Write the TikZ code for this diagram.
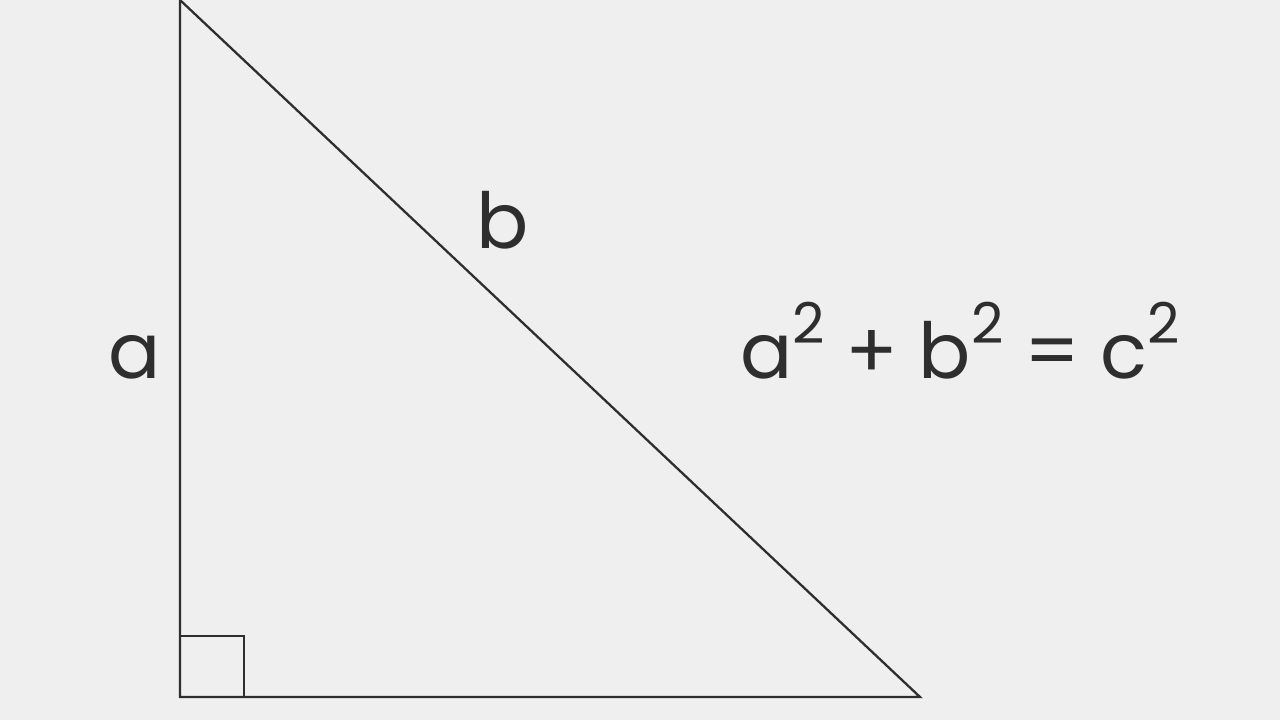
\documentclass[tikz,border=0pt]{standalone}
\usepackage{fontspec}
\setmainfont{Poppins}
\usetikzlibrary{positioning}

\definecolor{bgcol}{HTML}{EFEFEF}
\definecolor{inkcol}{HTML}{2E2E2E}
\newcommand{\sqr}{\raisebox{0.45em}{\fontsize{32}{32}\selectfont 2}}

\begin{document}
\begin{tikzpicture}[x=0.02cm,y=-0.02cm,line width=1.3pt,draw=inkcol,
  side label/.style={text=inkcol,font=\fontsize{44}{44}\selectfont,anchor=base,inner sep=0pt}]

  \fill[bgcol] (0,0) rectangle (1280,720);
  \useasboundingbox (0,0) rectangle (1280,720);

  \coordinate (top) at (180,0);
  \coordinate (corner) at (180,697);
  \coordinate (right) at (920,697);

  \draw[line join=miter] (top) -- (corner) -- (right) -- cycle;
  \draw (180,636) -| (244,697);

  \node[side label] (la) at (135,378) {a};
  \node[side label] (lb) at (503,248) {b};
  \node[side label] (eq) at (960,378) {a\sqr\ + b\sqr\ = c\sqr};

\end{tikzpicture}
\end{document}
